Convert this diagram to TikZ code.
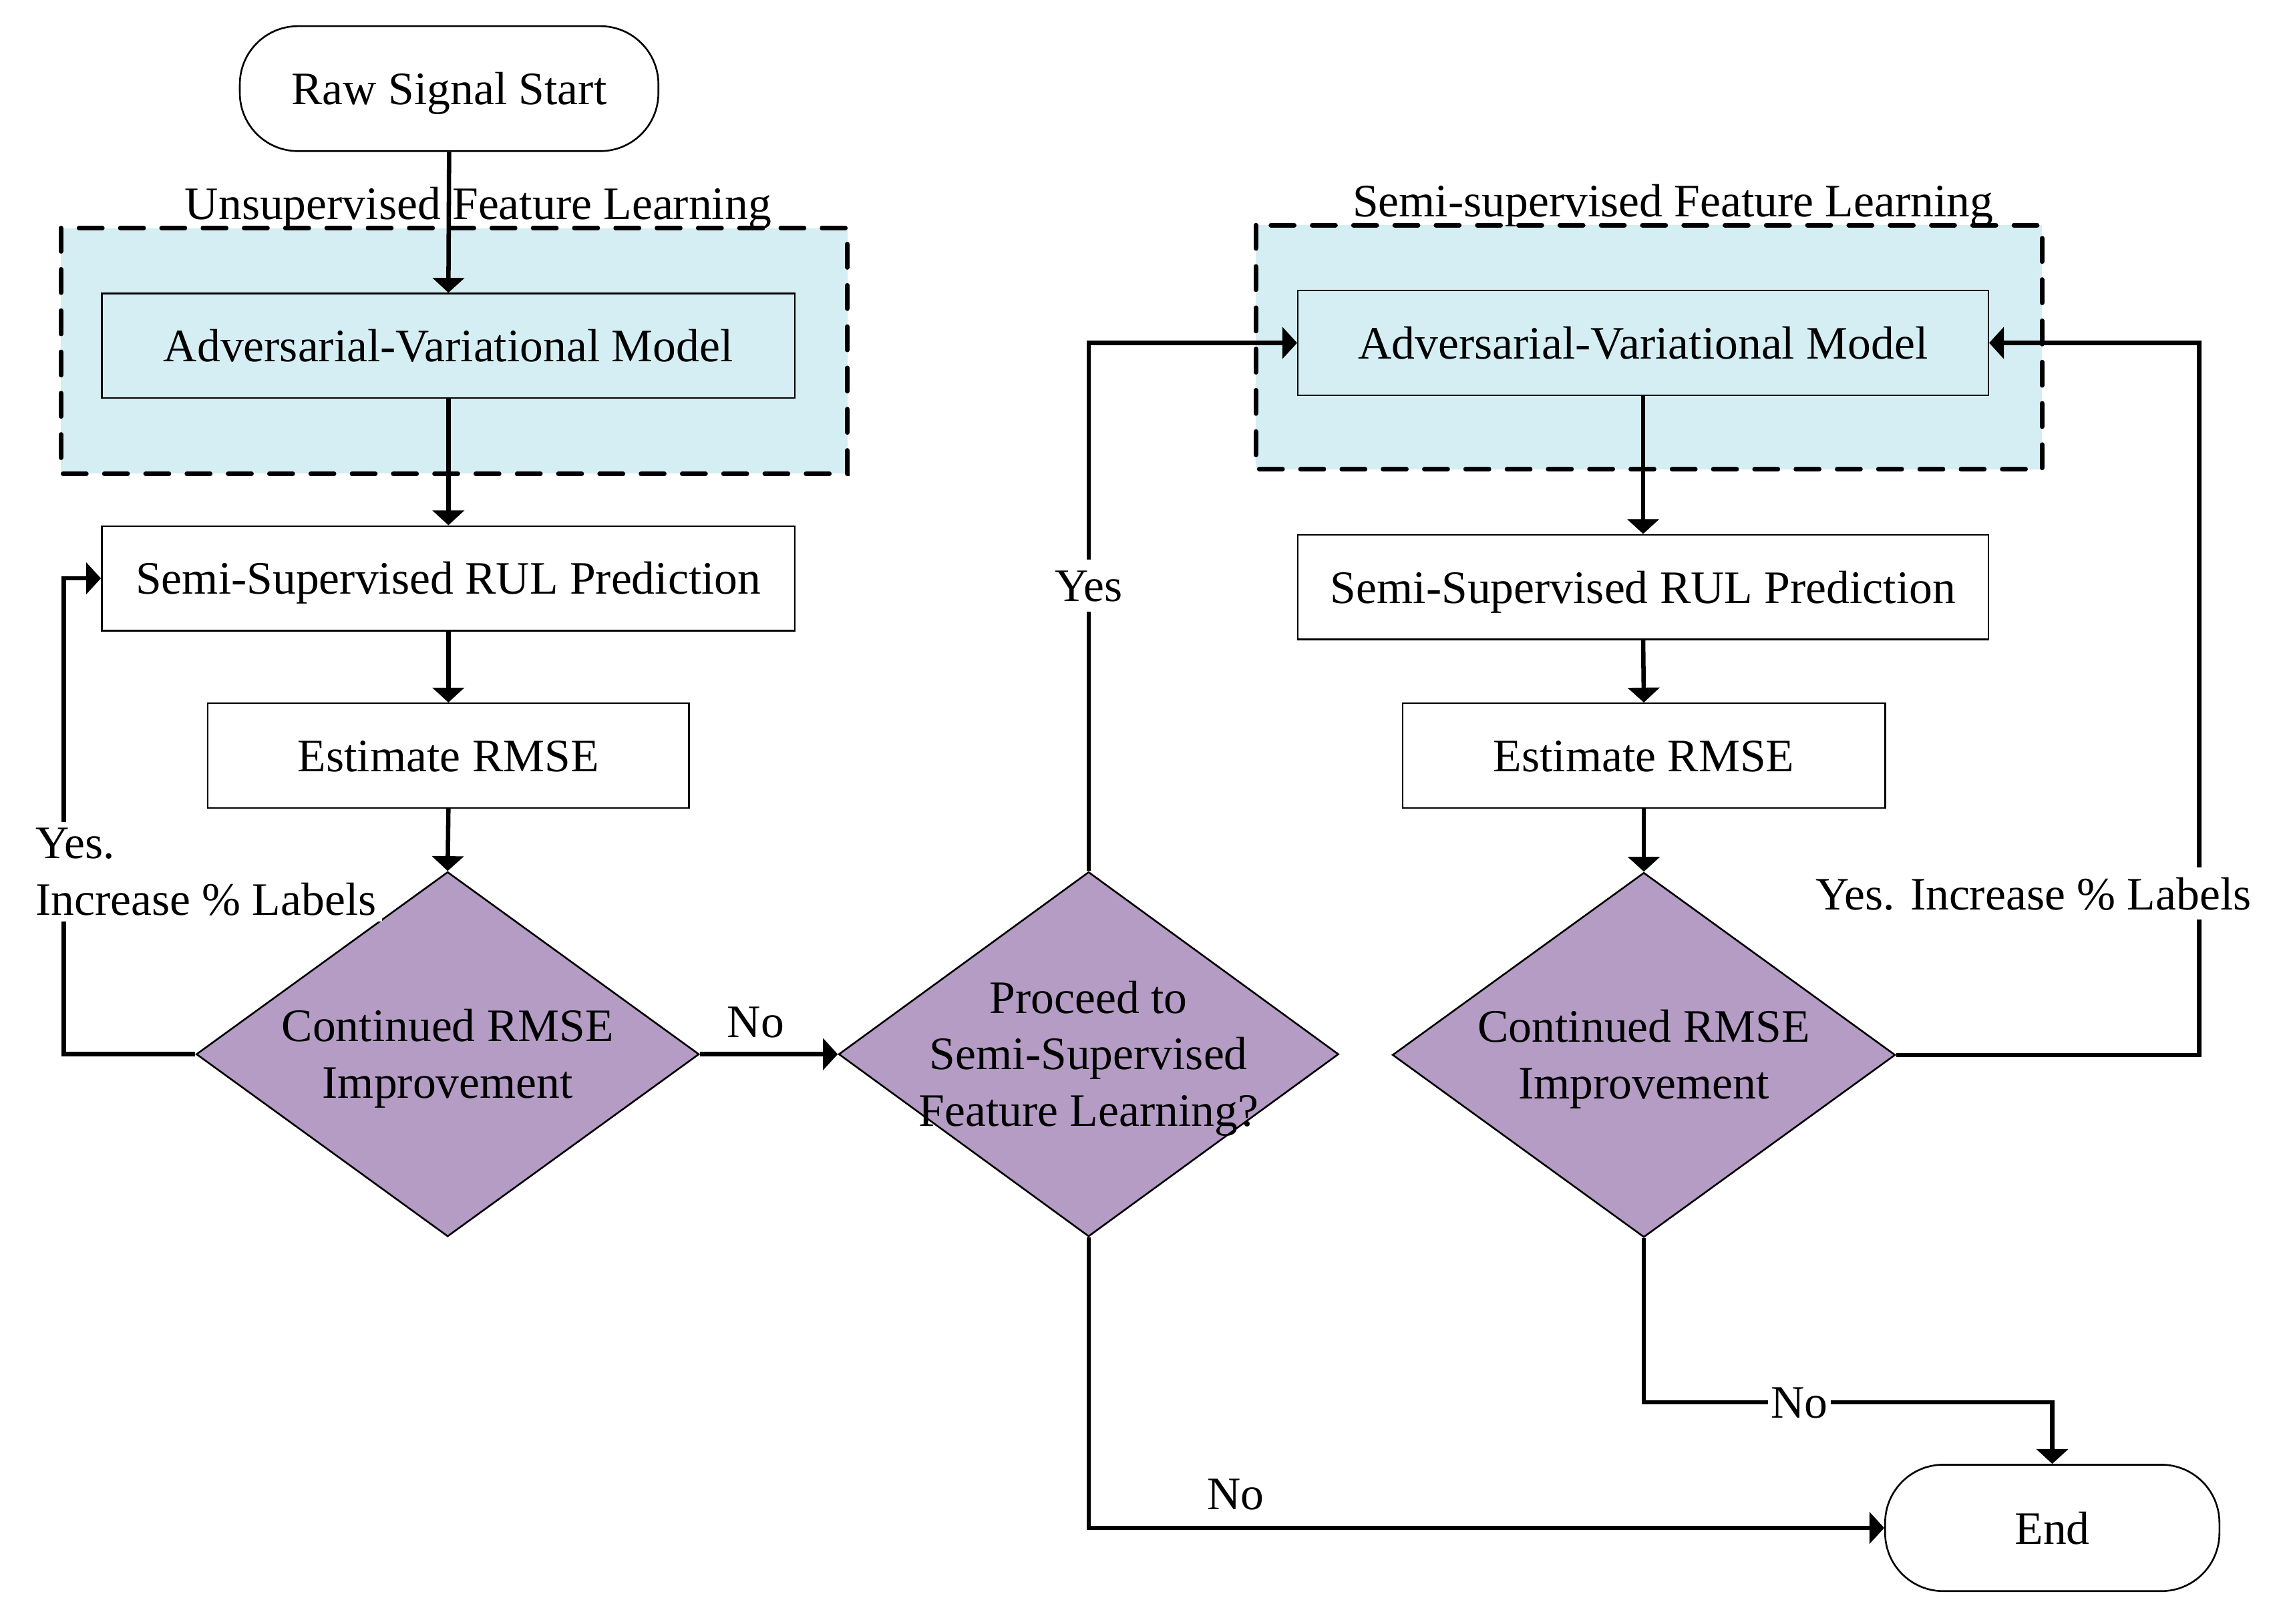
\documentclass[tikz,border=0pt]{standalone}
\usepackage{fontspec}
\setmainfont{Liberation Serif}
\usetikzlibrary{shapes.geometric,arrows.meta}
\definecolor{boxcyan}{HTML}{D5EEF3}
\definecolor{diapurple}{HTML}{B49CC4}
\begin{document}
\begin{tikzpicture}[x=0.5pt,y=-0.5pt,
  txt/.style={font=\fontsize{16}{19.5}\selectfont},
  oneline/.style={txt,text height=12.5pt,text depth=1.5pt},
  procbox/.style={oneline,draw=black,line width=0.55pt,fill=white,minimum height=36pt,inner sep=0pt},
  termbox/.style={oneline,draw=black,line width=0.6pt,fill=white,rounded corners=20pt,inner sep=0pt},
  diabox/.style={diamond,draw=black,line width=0.6pt,fill=diapurple,inner sep=0pt,minimum width=173pt,minimum height=125.5pt},
  diatext/.style={txt,align=center,yshift=-1.5pt},
  grpbox/.style={draw=black,fill=boxcyan,line width=1.6pt,dash pattern=on 8pt off 6.2pt,line cap=round},
  conn/.style={draw=black,line width=1.5pt},
  arr/.style={conn,-{Triangle[length=5.1pt,width=10.8pt]}},
  lbl/.style={oneline,inner sep=1pt},
  wlbl/.style={oneline,fill=white,inner sep=2pt}]
\path[use as bounding box] (0,0) rectangle (1568,1117.2);

% group boxes
\draw[grpbox] (42,157) rectangle (583,326);
\draw[grpbox] (864,155) rectangle (1405,323);
\node[lbl] (g1lbl) at (329,140) {Unsupervised Feature Learning};
\node[lbl] (g2lbl) at (1151,138) {Semi-supervised Feature Learning};

% left column
\node[termbox,minimum width=144pt,minimum height=43pt] (start) at (309,61) {Raw Signal Start};
\node[procbox,fill=boxcyan,minimum width=238.5pt] (avm1) at (308.5,238) {Adversarial-Variational Model};
\node[procbox,minimum width=238.5pt] (ssr1) at (308.5,398) {Semi-Supervised RUL Prediction};
\node[procbox,minimum width=165.5pt] (est1) at (308.5,520) {Estimate RMSE};
\node[diabox] (d1) at (308,725.5) {};
\node[diatext] (d1t) at (d1.center) {Continued RMSE\\Improvement};

% middle
\node[diabox,minimum width=172pt] (d2) at (749,725.5) {};
\node[diatext] (d2t) at (d2.center) {Proceed to\\Semi-Supervised\\Feature Learning?};

% right column
\node[procbox,fill=boxcyan,minimum width=237.5pt] (avm2) at (1130.5,236) {Adversarial-Variational Model};
\node[procbox,minimum width=237.5pt] (ssr2) at (1130.5,404) {Semi-Supervised RUL Prediction};
\node[procbox,minimum width=166pt] (est2) at (1131,520) {Estimate RMSE};
\node[diabox] (d3) at (1131,726) {};
\node[diatext] (d3t) at (d3.center) {Continued RMSE\\Improvement};
\node[termbox,minimum width=115pt,minimum height=43.5pt] (end) at (1412,1051.5) {End};

% helper coordinates
\coordinate (l1) at (44,725.5);
\coordinate (r1) at (1513,726);
\coordinate (n3) at (1131,965);

% connectors
\draw[arr] (start.south) -- (avm1.north);
\draw[arr] (avm1.south) -- (ssr1.north);
\draw[arr] (ssr1.south) -- (est1.north);
\draw[arr] (est1.south) -- (d1.north);
\draw[arr] (d1.west) -- (l1) |- (ssr1.west);
\draw[arr] (d1.east) -- (d2.west);
\draw[arr] (d2.north) |- (avm2.west);
\draw[arr] (d2.south) |- (end.west);
\draw[arr] (avm2.south) -- (ssr2.north);
\draw[arr] (ssr2.south) -- (est2.north);
\draw[arr] (est2.south) -- (d3.north);
\draw[arr] (d3.east) -- (r1) |- (avm2.east);
\draw[arr] (d3.south) -- (n3) -| (end.north);

% connector labels
\node[txt,fill=white,inner sep=2pt,align=left,anchor=west] (yl) at (20,600) {Yes.\\Increase \% Labels};
\node[lbl] (no1) at (520,703) {No};
\node[wlbl] (yes2) at (749,403) {Yes};
\node[lbl] (no2) at (850,1028) {No};
\node[wlbl] (yr) at (1399,615) {Yes. Increase \% Labels};
\node[wlbl,inner sep=1pt] (no3) at (1238,965) {No};
\end{tikzpicture}
\end{document}
